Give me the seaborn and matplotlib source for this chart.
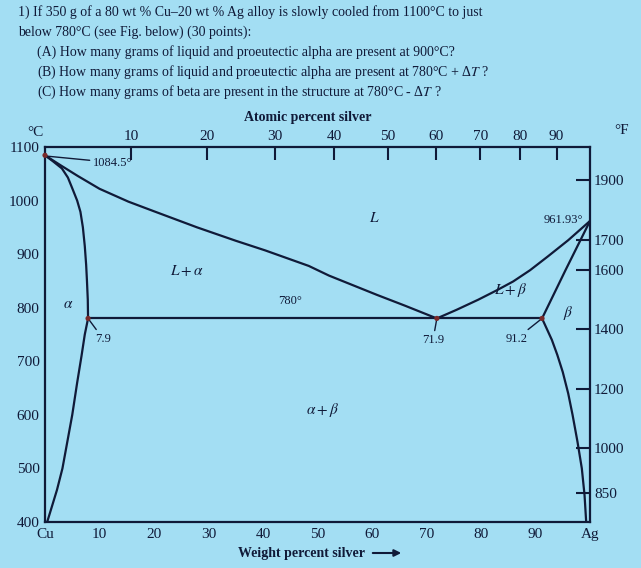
import numpy as np
import pandas as pd
import matplotlib
matplotlib.use('Agg')
import matplotlib.pyplot as plt
import seaborn as sns

sns.set_theme(style='white')
plt.rcParams['font.family'] = ['Liberation Serif', 'DejaVu Sans']
plt.rcParams['mathtext.fontset'] = 'stix'

bg = '#a3def3'
ink = '#101a38'

# Cu-Ag phase diagram (wt % Ag, deg C)
liq_left_wt = [0, 3, 6, 10, 15.3, 20, 27.9, 35, 40.4, 48.4, 52.1, 60.9, 66, 71.9]
liq_left_t = [1084.5, 1065, 1046, 1022, 998, 980, 950, 925, 907, 878, 860, 824, 804, 780]
sol_a_wt = [0, 1.5, 3.1, 4.2, 5.0, 5.9, 6.5, 6.95, 7.3, 7.55, 7.7, 7.85, 7.9]
sol_a_t = [1084.5, 1073, 1060, 1043, 1023, 1000, 979, 950, 915, 880, 850, 815, 780]
solv_a_wt = [7.9, 7.3, 6.7, 5.9, 5.0, 4.1, 3.2, 2.2, 1.3, 0.4]
solv_a_t = [780, 750, 710, 660, 600, 550, 500, 460, 430, 400]
liq_right_wt = [71.9, 75.5, 79.5, 82.8, 85.9, 89, 92.3, 96, 100]
liq_right_t = [780, 796, 815, 832, 849, 870, 896, 926, 961.93]
sol_b_wt = [91.2, 95.5, 100]
sol_b_t = [780, 870, 961.93]
solv_b_wt = [91.2, 92.1, 93, 94, 95, 96, 96.8, 97.7, 98.5, 99.0, 99.3]
solv_b_t = [780, 760, 740, 712, 680, 640, 600, 550, 500, 450, 400]
eut_wt = [7.9, 91.2]
eut_t = [780, 780]

pts_wt = [0, 7.9, 71.9, 91.2]
pts_t = [1084.5, 780, 780, 780]

c_ticks = [400, 500, 600, 700, 800, 900, 1000, 1100]
wt_ticks = [0, 10, 20, 30, 40, 50, 60, 70, 80, 90, 100]
wt_labels = ['Cu', '10', '20', '30', '40', '50', '60', '70', '80', '90', 'Ag']
at_ticks = [10, 20, 30, 40, 50, 60, 70, 80, 90]
f_ticks = [850, 1000, 1200, 1400, 1600, 1700, 1900]

curves = pd.concat([
    pd.DataFrame({'wt': w, 't': t, 'curve': name})
    for name, w, t in [('liq_left', liq_left_wt, liq_left_t),
                       ('sol_a', sol_a_wt, sol_a_t),
                       ('solv_a', solv_a_wt, solv_a_t),
                       ('liq_right', liq_right_wt, liq_right_t),
                       ('sol_b', sol_b_wt, sol_b_t),
                       ('solv_b', solv_b_wt, solv_b_t),
                       ('eutectic', eut_wt, eut_t)]
])

fig = plt.figure(figsize=(6.41, 5.68), dpi=100)
fig.patch.set_facecolor(bg)
W, H = 641, 568
ax = fig.add_axes([45 / W, 1 - 522 / H, (590 - 45) / W, (522 - 147) / H])
ax.set_facecolor(bg)

for name, g in curves.groupby('curve', sort=False):
    sns.lineplot(data=g, x='wt', y='t', sort=False, color=ink, lw=1.6, ax=ax,
                 estimator=None)
sns.scatterplot(x=pts_wt, y=pts_t, color='#7a2a2a', s=14, edgecolor='none',
                ax=ax, zorder=5, clip_on=False)

ax.set_xlim(0, 100)
ax.set_ylim(400, 1100)
ax.set_xlabel('')
ax.set_ylabel('')
for s in ax.spines.values():
    s.set_color(ink)
    s.set_linewidth(1.6)

ax.set_xticks(wt_ticks, wt_labels)
ax.set_yticks(c_ticks)
ax.tick_params(axis='x', direction='in', length=9, width=1.5, color=ink,
               labelsize=11, labelcolor=ink, pad=4)
ax.tick_params(axis='y', direction='in', length=9, width=1.5, color=ink,
               labelsize=11, labelcolor=ink, pad=4)
for tk in ax.xaxis.get_major_ticks()[::10]:
    tk.tick1line.set_visible(False)


def wt2at(w):
    w = np.asarray(w, dtype=float)
    a = w / 107.87
    c = (100 - w) / 63.55
    return 100 * a / (a + c)


def at2wt(a):
    a = np.asarray(a, dtype=float)
    m = a * 107.87
    n = (100 - a) * 63.55
    return 100 * m / (m + n)


top = ax.secondary_xaxis('top', functions=(wt2at, at2wt))
top.set_xticks(at_ticks)
top.tick_params(direction='in', length=9, width=1.5, color=ink,
                labelsize=11, labelcolor=ink, pad=3)
top.spines['top'].set_visible(False)

right = ax.secondary_yaxis('right', functions=(lambda c: c * 9 / 5 + 32,
                                               lambda f: (f - 32) * 5 / 9))
right.set_yticks(f_ticks)
right.tick_params(direction='in', length=10, width=1.5, color=ink,
                  labelsize=11, labelcolor=ink, pad=3)
right.spines['right'].set_visible(False)

# region labels
reg = dict(color=ink, fontsize=11, ha='center', va='center')
ax.text(60.5, 968, '$L$', **reg)
ax.text(26, 870, r'$L + \alpha$', **reg)
ax.text(4.2, 806, r'$\alpha$', **reg)
ax.text(85.5, 833, r'$L + \beta$', **reg)
ax.text(96, 790, r'$\beta$', **reg)
ax.text(51, 609, r'$\alpha + \beta$', **reg)
ax.text(45, 812, '780°', color=ink, fontsize=9, ha='center', va='center')

ln = dict(arrowstyle='-', color=ink, lw=1.0, shrinkA=0, shrinkB=0)
ax.annotate('1084.5°', xy=(0.3, 1083), xytext=(8.8, 1071), fontsize=9,
            color=ink, va='center', ha='left', arrowprops=ln)
ax.annotate('7.9', xy=(7.9, 780), xytext=(9.2, 742), fontsize=9,
            color=ink, va='center', ha='left', arrowprops=ln)
ax.annotate('71.9', xy=(71.9, 780), xytext=(71.2, 740), fontsize=9,
            color=ink, va='center', ha='center', arrowprops=ln)
ax.annotate('91.2', xy=(91.2, 780), xytext=(86.5, 742), fontsize=9,
            color=ink, va='center', ha='center', arrowprops=ln)
ax.text(98.8, 963, '961.93°', fontsize=9, color=ink, ha='right', va='center')

# axis captions
fig.text(35 / W, 1 - 132 / H, '°C', fontsize=11, color=ink, ha='center', va='center')
fig.text(622 / W, 1 - 130 / H, '°F', fontsize=11, color=ink, ha='center', va='center')
fig.text(308 / W, 1 - 117 / H, 'Atomic percent silver', fontsize=10,
         fontweight='bold', color=ink, ha='center', va='center')
fig.text(302 / W, 1 - 553 / H, 'Weight percent silver', fontsize=10,
         fontweight='bold', color=ink, ha='center', va='center')
fig.add_artist(matplotlib.patches.FancyArrowPatch(
    (370 / W, 1 - 553 / H), (404 / W, 1 - 553 / H), transform=fig.transFigure,
    arrowstyle='-|>', mutation_scale=10, color=ink, lw=1.5))

# problem statement
q = dict(fontsize=10, color=ink, va='center', ha='left')
fig.text(18 / W, 1 - 12 / H,
         '1) If 350 g of a 80 wt % Cu–20 wt % Ag alloy is slowly cooled from 1100°C to just', **q)
fig.text(18 / W, 1 - 32 / H, 'below 780°C (see Fig. below) (30 points):', **q)
fig.text(37 / W, 1 - 52 / H,
         '(A) How many grams of liquid and proeutectic alpha are present at 900°C?', **q)
fig.text(37 / W, 1 - 72 / H,
         '(B) How many grams of liquid and proeutectic alpha are present at 780°C + Δ$T$ ?', **q)
fig.text(37 / W, 1 - 92 / H,
         '(C) How many grams of beta are present in the structure at 780°C - Δ$T$ ?', **q)

fig.savefig('out.png', dpi=100, facecolor=bg)
